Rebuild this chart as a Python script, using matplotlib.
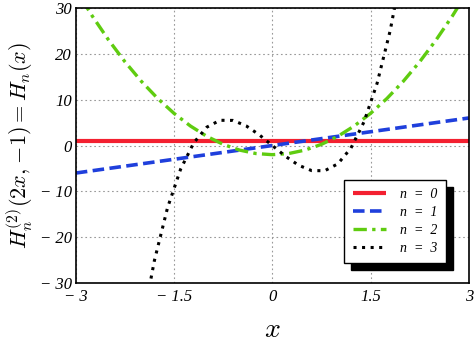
import matplotlib
matplotlib.use("Agg")
import matplotlib.pyplot as plt

# Hermite polynomials H_n(x)
x_h0 = [-3.0, 3.0]
y_h0 = [1.0, 1.0]

x_h1 = [-3.0, 3.0]
y_h1 = [-6.0, 6.0]

x_h2 = [-3.0, -2.75, -2.5, -2.25, -2.0, -1.75, -1.5, -1.25, -1.0, -0.75, -0.5, -0.25, 0.0,
        0.25, 0.5, 0.75, 1.0, 1.25, 1.5, 1.75, 2.0, 2.25, 2.5, 2.75, 3.0]
y_h2 = [34.0, 28.25, 23.0, 18.25, 14.0, 10.25, 7.0, 4.25, 2.0, 0.25, -1.0, -1.75, -2.0,
        -1.75, -1.0, 0.25, 2.0, 4.25, 7.0, 10.25, 14.0, 18.25, 23.0, 28.25, 34.0]

x_h3 = [-2.0, -1.8, -1.6, -1.4, -1.2, -1.0, -0.8, -0.6, -0.4, -0.2, 0.0,
        0.2, 0.4, 0.6, 0.8, 1.0, 1.2, 1.4, 1.6, 1.8, 2.0]
y_h3 = [-40.0, -25.06, -13.57, -5.15, 0.58, 4.0, 5.5, 5.47, 4.29, 2.34, 0.0,
        -2.34, -4.29, -5.47, -5.5, -4.0, -0.58, 5.15, 13.57, 25.06, 40.0]

x_ticks = [-3, -1.5, 0, 1.5, 3]
x_ticklabels = ['\u2212 3', '\u2212 1.5', '0', '1.5', '3']
y_ticks = [-30, -20, -10, 0, 10, 20, 30]
y_ticklabels = ['\u2212 30', '\u2212 20', '\u2212 10', '0', '10', '20', '30']
legend_labels = ['n  =  0', 'n  =  1', 'n  =  2', 'n  =  3']

plt.rcParams['mathtext.fontset'] = 'cm'
plt.rcParams['font.family'] = 'serif'

fig = plt.figure(figsize=(4.74, 3.44), dpi=100)
ax = fig.add_axes([0.160, 0.177, 0.829, 0.800])

ax.plot(x_h0, y_h0, color='#f32030', lw=3.0, solid_capstyle='butt', label=legend_labels[0])
ax.plot(x_h1, y_h1, color='#1f3fdc', lw=2.6, linestyle=(0, (3.2, 1.5)), dash_capstyle='butt',
        label=legend_labels[1])
ax.plot(x_h2, y_h2, color='#5fcc10', lw=2.4, linestyle=(0, (4.0, 1.6, 1.0, 1.6)),
        dash_capstyle='butt', label=legend_labels[2])
ax.plot(x_h3, y_h3, color='black', lw=2.2, linestyle=(0, (1.0, 1.8)), dash_capstyle='butt',
        label=legend_labels[3])

tick_font = dict(family='Liberation Serif', style='italic', size=12)

ax.set_xlim(-3, 3)
ax.set_ylim(-30, 30)
ax.set_xticks(x_ticks)
ax.set_xticklabels(x_ticklabels, fontdict=tick_font)
ax.set_yticks(y_ticks)
ax.set_yticklabels(y_ticklabels, fontdict=tick_font)
ax.tick_params(axis='x', length=0, pad=4)
ax.tick_params(axis='y', length=0, pad=3)
ax.grid(True, linestyle=(0, (1.5, 2.5)), color='#999999', linewidth=0.8)
for s in ax.spines.values():
    s.set_linewidth(1.2)

ax.set_xlabel(r'$x$', fontsize=20, labelpad=8)
ax.set_ylabel(r'$H_n^{(2)}(2x,\!-\!1) = H_n(x)$', fontsize=16, labelpad=3)

leg = ax.legend(loc='lower right', bbox_to_anchor=(0.941, 0.073), borderaxespad=0,
                prop=dict(family='Liberation Serif', style='italic', size=10),
                fancybox=False, framealpha=1, edgecolor='black',
                handlelength=2.4, borderpad=0.6, labelspacing=0.35, handletextpad=1.0,
                shadow={'color': 'black', 'alpha': 1, 'ox': 5, 'oy': -5})
leg.get_frame().set_linewidth(1.0)

fig.savefig('out.png', dpi=100)
